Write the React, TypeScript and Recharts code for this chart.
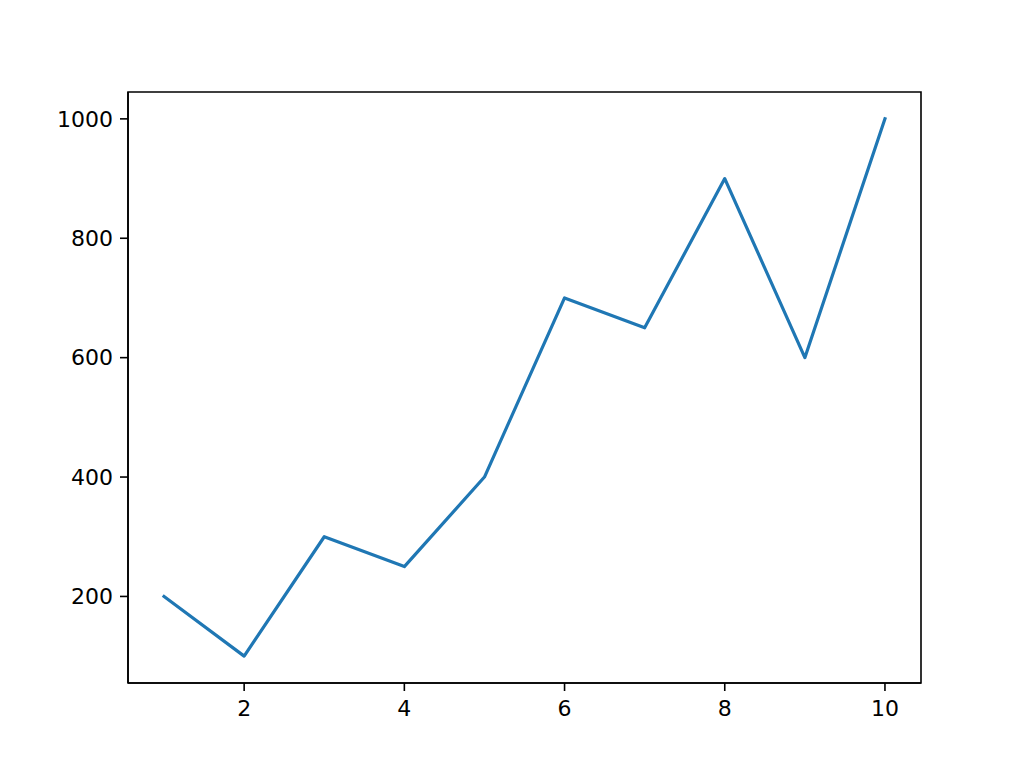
import React from "react";
import { LineChart, Line, XAxis, YAxis, ReferenceArea } from "recharts";

const xValues = [1, 2, 3, 4, 5, 6, 7, 8, 9, 10];
const yValues = [200, 100, 300, 250, 400, 700, 650, 900, 600, 1000];
const xTicks = [2, 4, 6, 8, 10];
const yTicks = [200, 400, 600, 800, 1000];
const xDomain = [0.55, 10.45];
const yDomain = [55, 1045];

const data = xValues.map((x, i) => ({ x, y: yValues[i] }));

const font = { fontFamily: "'DejaVu Sans', sans-serif", fontSize: 22, fill: "#000" };
const axisLine = { stroke: "#000", strokeWidth: 1.6 };
const tickLine = { stroke: "#000", strokeWidth: 1.6 };

export default function App() {
  return (
    <div style={{ position: "absolute", left: 0, top: 0, width: 1024, height: 768, background: "#fff" }}>
      <LineChart width={1024} height={768} data={data} margin={{ top: 92, right: 103, bottom: 45, left: 68 }}>
        <XAxis
          dataKey="x" type="number" domain={xDomain} ticks={xTicks} allowDataOverflow
          height={40} tick={font} tickSize={8} tickMargin={9} axisLine={axisLine} tickLine={tickLine}
        />
        <YAxis
          type="number" domain={yDomain} ticks={yTicks} allowDataOverflow
          width={60} tick={font} tickSize={8} tickMargin={7} axisLine={axisLine} tickLine={tickLine}
        />
        <ReferenceArea
          x1={xDomain[0]} x2={xDomain[1]} y1={yDomain[0]} y2={yDomain[1]}
          fill="none" stroke="#000" strokeWidth={1.6} fillOpacity={0} ifOverflow="visible"
        />
        <Line
          dataKey="y" stroke="#1f77b4" strokeWidth={3.2} dot={false} isAnimationActive={false}
          strokeLinejoin="round" strokeLinecap="square"
        />
      </LineChart>
    </div>
  );
}
